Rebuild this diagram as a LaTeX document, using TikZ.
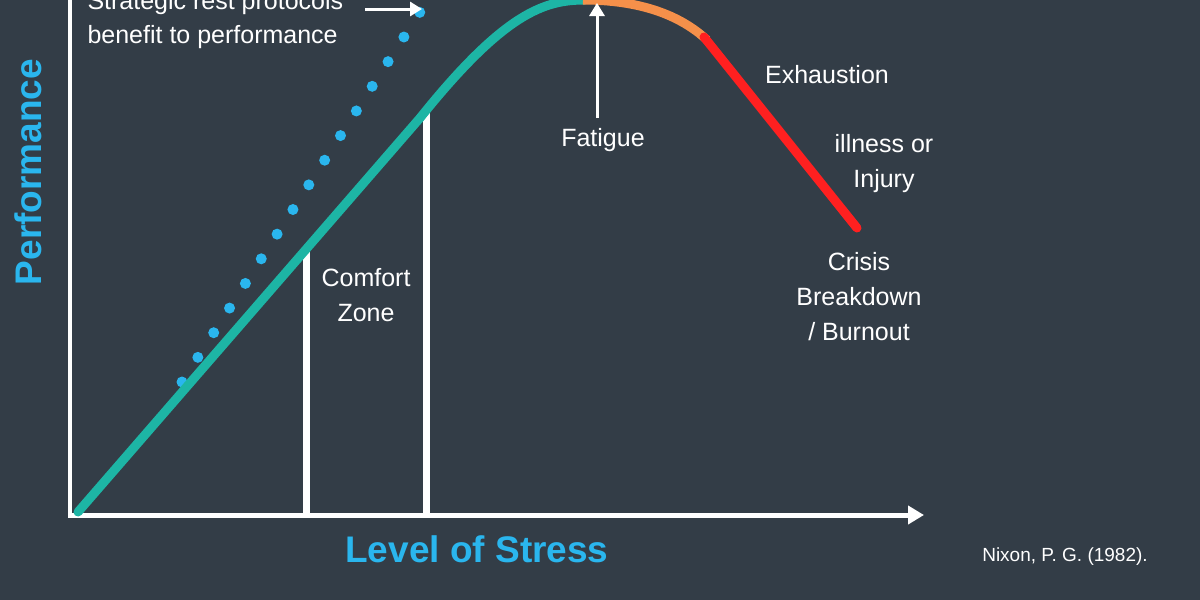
\documentclass[tikz,border=0pt]{standalone}
\usepackage{fontspec}
\setmainfont{Liberation Sans}
\usetikzlibrary{arrows.meta}
\definecolor{bg}{HTML}{333D47}
\definecolor{teal}{HTML}{1DB5A5}
\definecolor{org}{HTML}{F5904A}
\definecolor{rd}{HTML}{FF2020}
\definecolor{blu}{HTML}{2AB6EE}
\begin{document}
\begin{tikzpicture}[x=1pt,y=-1pt,
  lbl/.style={text=white,font=\fontsize{25}{35}\selectfont,align=center},
  wline/.style={draw=white,line width=7pt},
  curve/.style={line width=9pt}]
\fill[bg] (0,0) rectangle (1200,600);
\useasboundingbox (0,0) rectangle (1200,600);
\begin{scope}
\clip (0,0) rectangle (1200,600);
% axes
\coordinate (o) at (70,515);
\coordinate (ytop) at (70,-5);
\coordinate (xend) at (924,515);
\draw[white,line width=4pt] (ytop) -- (70,517);
\draw[white,line width=5pt,-{Triangle[length=16pt,width=18pt]}] (68,515) -- (xend);
% verticals
\coordinate (c1) at (306,252); \coordinate (c1b) at (306,515);
\coordinate (c2) at (426,108); \coordinate (c2b) at (426,515);
\draw[wline] (c1) -- (c1b);
\draw[wline] (c2) -- (c2b);
% dots
\draw[blu,line width=11pt,line cap=round,dash pattern=on 0pt off 29.3pt] (182,382) -- (420,12) -- (430,-4);
% curve
\draw[teal,curve,line cap=round] (78,512) -- (420,118) .. controls (505,12) and (545,0) .. (585,0);
\draw[org,curve] (583,0) .. controls (640,0) and (680,15) .. (707,40);
\draw[rd,curve,line cap=round] (704,37) -- (857,228);
% fatigue arrow
\coordinate (fa) at (597,118); \coordinate (fb) at (597,3);
\draw[white,line width=3pt,-{Triangle[length=13pt,width=15pt]}] (fa) -- (fb);
% strategic arrow
\coordinate (sa) at (365,9); \coordinate (sb) at (422,9);
\draw[white,line width=3pt,-{Triangle[length=12pt,width=14pt]}] (sa) -- (sb);
\end{scope}
% texts
\node[lbl,anchor=west] (t1) at (84,3) {Strategic rest protocols};
\node[lbl,anchor=west] (t2) at (84,37) {benefit to performance};
\node[lbl] (fat) at (603,140) {Fatigue};
\node[lbl] (exh) at (827,75) {Exhaustion};
\node[lbl] (ill) at (884,164) {illness or\\Injury};
\node[lbl] (cri) at (859,297) {Crisis\\Breakdown\\/ Burnout};
\node[lbl] (cz) at (366,295) {Comfort\\Zone};
\node[text=blu,font=\bfseries\fontsize{37}{40}\selectfont,rotate=90] (perf) at (28,172) {Performance};
\node[text=blu,font=\bfseries\fontsize{37}{42}\selectfont] (los) at (477,549) {Level of Stress};
\node[text=white,font=\fontsize{19}{22}\selectfont] (nix) at (1065,557) {Nixon, P. G. (1982).};
\end{tikzpicture}
\end{document}
